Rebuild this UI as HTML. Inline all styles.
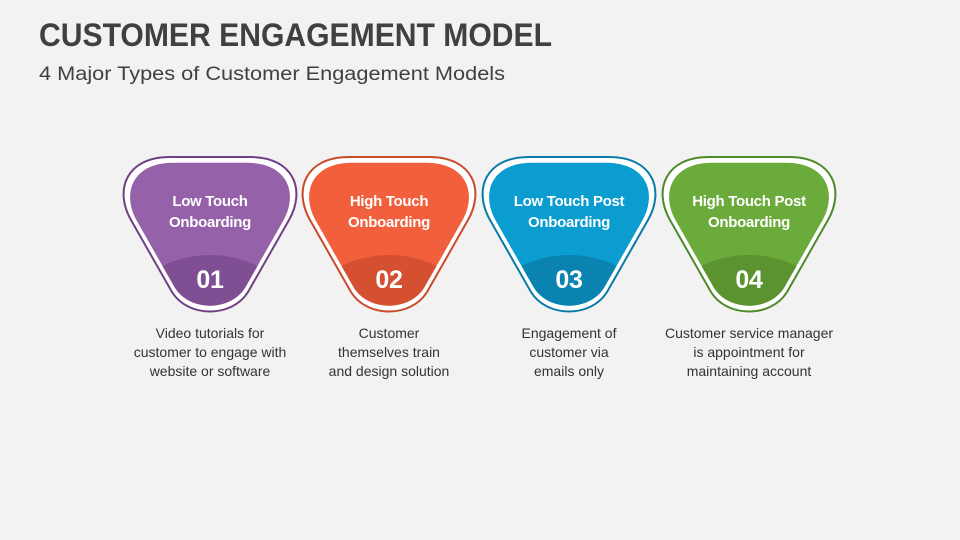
<!DOCTYPE html>
<html><head><meta charset="utf-8"><style>
html,body{margin:0;padding:0;background:#f2f2f2;}
svg{display:block;font-family:"Liberation Sans",sans-serif;}
</style></head><body>
<svg width="960" height="540" viewBox="0 0 960 540" xmlns="http://www.w3.org/2000/svg">
<rect width="960" height="540" fill="#f2f2f2"/>
<text x="39" y="46" font-size="32" font-weight="bold" fill="#404040" textLength="513" lengthAdjust="spacingAndGlyphs">CUSTOMER ENGAGEMENT MODEL</text>
<text x="39" y="80" font-size="19" fill="#404040" textLength="466" lengthAdjust="spacingAndGlyphs">4 Major Types of Customer Engagement Models</text>
<defs>
<path id="sh" d="M -40,157 L 40,157 C 84,157 96,190 79,220 L 38,292 C 22,318 -22,318 -38,292 L -79,220 C -96,190 -84,157 -40,157 Z"/>
<clipPath id="cp"><use href="#sh" transform="translate(0,234) scale(0.925) translate(0,-234)"/></clipPath>
</defs>
<g transform="translate(210,0)">
<use href="#sh" fill="#fff" stroke="#6e3f82" stroke-width="2"/>
<use href="#sh" fill="#9561a8" transform="translate(0,234) scale(0.925) translate(0,-234)"/>
<ellipse cx="0" cy="312" rx="80" ry="57" fill="#7f4e93" clip-path="url(#cp)"/>
</g>
<g transform="translate(389,0)">
<use href="#sh" fill="#fff" stroke="#c94b2b" stroke-width="2"/>
<use href="#sh" fill="#f15f3c" transform="translate(0,234) scale(0.925) translate(0,-234)"/>
<ellipse cx="0" cy="312" rx="80" ry="57" fill="#d54f31" clip-path="url(#cp)"/>
</g>
<g transform="translate(569,0)">
<use href="#sh" fill="#fff" stroke="#0a7aa6" stroke-width="2"/>
<use href="#sh" fill="#0b9cd0" transform="translate(0,234) scale(0.925) translate(0,-234)"/>
<ellipse cx="0" cy="312" rx="80" ry="57" fill="#0a83b0" clip-path="url(#cp)"/>
</g>
<g transform="translate(749,0)">
<use href="#sh" fill="#fff" stroke="#4d8a2a" stroke-width="2"/>
<use href="#sh" fill="#6bab3b" transform="translate(0,234) scale(0.925) translate(0,-234)"/>
<ellipse cx="0" cy="312" rx="80" ry="57" fill="#5a9330" clip-path="url(#cp)"/>
</g>
<g font-weight="bold" fill="#fff" text-anchor="middle" font-size="15" letter-spacing="-0.3">
<text x="210" y="206">Low Touch</text><text x="210" y="227">Onboarding</text>
<text x="389" y="206">High Touch</text><text x="389" y="227">Onboarding</text>
<text x="569" y="206">Low Touch Post</text><text x="569" y="227">Onboarding</text>
<text x="749" y="206">High Touch Post</text><text x="749" y="227">Onboarding</text>
<g font-size="25"><text x="210" y="288">01</text><text x="389" y="288">02</text><text x="569" y="288">03</text><text x="749" y="288">04</text></g>
</g>
<g fill="#333" text-anchor="middle" font-size="14">
<text x="210" y="338">Video tutorials for</text><text x="210" y="357">customer to engage with</text><text x="210" y="376">website or software</text>
<text x="389" y="338">Customer</text><text x="389" y="357">themselves train</text><text x="389" y="376">and design solution</text>
<text x="569" y="338">Engagement of</text><text x="569" y="357">customer via</text><text x="569" y="376">emails only</text>
<text x="749" y="338">Customer service manager</text><text x="749" y="357">is appointment for</text><text x="749" y="376">maintaining account</text>
</g>
</svg>
</body></html>
